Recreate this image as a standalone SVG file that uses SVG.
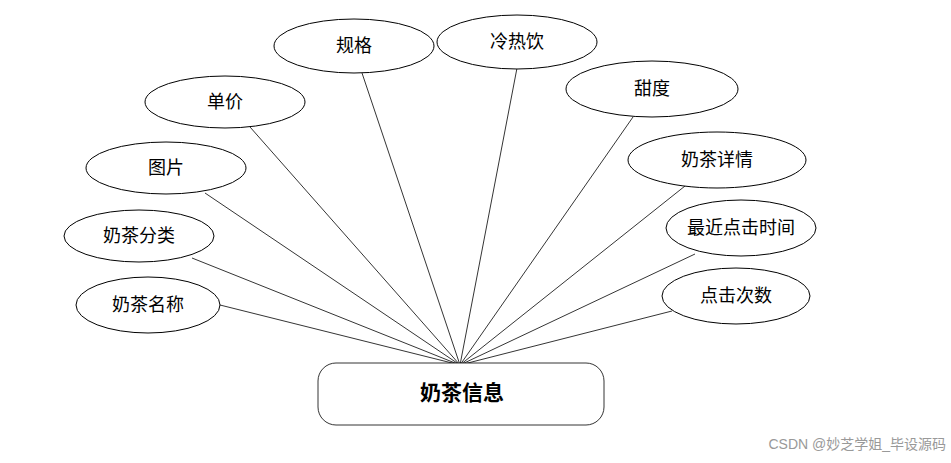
<svg xmlns="http://www.w3.org/2000/svg" width="951" height="463" viewBox="0 0 951 463">
<style>
ellipse{fill:#fff;stroke:#000;stroke-width:1}
line{stroke:#000;stroke-width:0.8}
text{font-family:"Liberation Serif","Noto Sans CJK SC",serif;font-size:18px;text-anchor:middle;dominant-baseline:central;fill:#000}
.t{font-size:21px;font-weight:bold}
.w{font-family:"Liberation Sans","Noto Sans CJK SC",sans-serif;font-size:14px;fill:#999;text-anchor:end}
</style>
<rect width="951" height="463" fill="#fff"/>
<g id="connectors">
<line x1="460" y1="365" x2="362" y2="73"/>
<line x1="460" y1="365" x2="517" y2="68"/>
<line x1="460" y1="365" x2="250" y2="127"/>
<line x1="460" y1="365" x2="633" y2="117"/>
<line x1="460" y1="365" x2="205" y2="193"/>
<line x1="460" y1="365" x2="685" y2="186"/>
<line x1="460" y1="365" x2="192" y2="258"/>
<line x1="460" y1="365" x2="695" y2="254"/>
<line x1="460" y1="365" x2="220" y2="305"/>
<line x1="460" y1="365" x2="672" y2="311"/>
</g>
<g id="n1"><ellipse cx="354" cy="46" rx="80" ry="27"/><text x="354" y="46">规格</text></g>
<g id="n2"><ellipse cx="517" cy="42" rx="80" ry="27"/><text x="517" y="42">冷热饮</text></g>
<g id="n3"><ellipse cx="225" cy="102" rx="80" ry="26"/><text x="225" y="102">单价</text></g>
<g id="n4"><ellipse cx="652" cy="89" rx="86" ry="28"/><text x="652" y="89">甜度</text></g>
<g id="n5"><ellipse cx="166" cy="168" rx="80" ry="26"/><text x="166" y="168">图片</text></g>
<g id="n6"><ellipse cx="717" cy="160" rx="89" ry="28"/><text x="717" y="160">奶茶详情</text></g>
<g id="n7"><ellipse cx="139" cy="236" rx="75" ry="26"/><text x="139" y="236">奶茶分类</text></g>
<g id="n8"><ellipse cx="741" cy="228" rx="75" ry="28"/><text x="741" y="228">最近点击时间</text></g>
<g id="n9"><ellipse cx="148" cy="305" rx="72" ry="28"/><text x="148" y="305">奶茶名称</text></g>
<g id="n10"><ellipse cx="736" cy="296" rx="74" ry="28"/><text x="736" y="296">点击次数</text></g>
<g id="main"><rect x="318" y="363" width="286" height="62" rx="18" fill="#fff" stroke="#000" stroke-width="0.8"/><text class="t" x="462" y="393">奶茶信息</text></g>
<text class="w" x="946" y="444">CSDN @妙芝学姐_毕设源码</text>
</svg>
